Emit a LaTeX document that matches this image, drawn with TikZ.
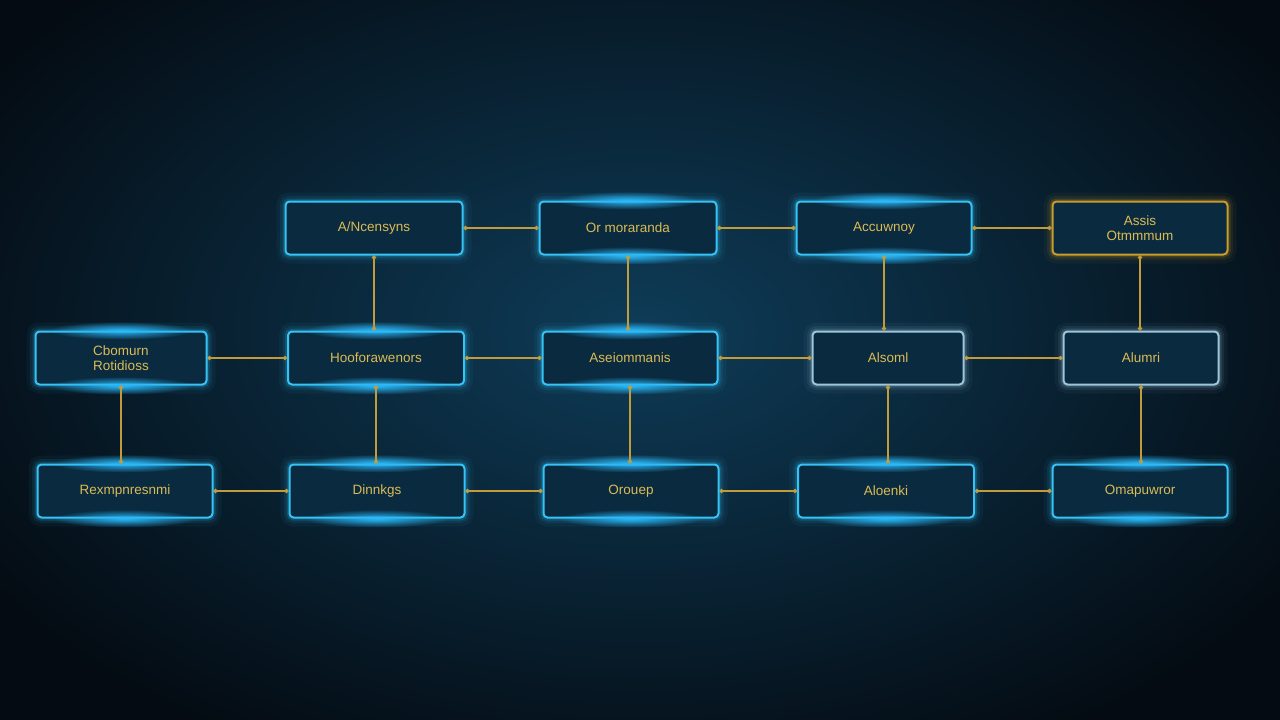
\documentclass[tikz,border=0pt]{standalone}
\usepackage{fontspec}
\setmainfont{Liberation Sans}
\usetikzlibrary{arrows.meta,fadings}
\definecolor{bgout}{HTML}{040B12}
\definecolor{bgin}{HTML}{0E3C58}
\definecolor{boxfill}{HTML}{0A2A3F}
\definecolor{cyanb}{HTML}{35C4F8}
\definecolor{glowc}{HTML}{2AB8F8}
\definecolor{paleb}{HTML}{9CC6DC}
\definecolor{goldb}{HTML}{C99C2C}
\definecolor{txtgold}{HTML}{DBBB55}
\definecolor{connc}{HTML}{C29C3A}
\tikzfading[name=glowfade, inner color=transparent!0, outer color=transparent!100]
\tikzset{
  box/.style={rounded corners=4pt, draw=#1, line width=2pt, fill=boxfill,
    minimum height=53pt, text=txtgold, align=center, inner sep=2pt,
    font=\fontsize{13.5}{15.5}\selectfont,
    preaction={draw=#1, line width=18pt, draw opacity=.05},
    preaction={draw=#1, line width=11pt, draw opacity=.09},
    preaction={draw=#1, line width=6pt, draw opacity=.18}},
  box/.default=cyanb,
  conn/.style={draw=connc, line width=2pt, {Circle[length=4pt]}-{Circle[length=4pt]}},
  halo/.style={fill=glowc, path fading=glowfade, opacity=1}
}
\begin{document}
\begin{tikzpicture}[x=1pt,y=-1pt]
\useasboundingbox (0,0) rectangle (1280,720);
\fill[bgout] (0,0) rectangle (1280,720);
\shade[inner color=bgin, outer color=bgout] (640,330) ellipse (780pt and 480pt);
% row 1
\node[box, minimum width=177pt] (n11) at (374,228) {A/Ncensyns};
\node[box, minimum width=177pt] (n12) at (628,228) {Or moraranda};
\node[box, minimum width=175pt] (n13) at (884,228) {Accuwnoy};
\node[box=goldb, minimum width=175pt] (n14) at (1140,228) {Assis\\Otmmmum};
% row 2
\node[box, minimum width=171pt] (n20) at (121,358) {Cbomurn\\Rotidioss};
\node[box, minimum width=176pt] (n21) at (376,358) {Hooforawenors};
\node[box, minimum width=175pt] (n22) at (630,358) {Aseiommanis};
\node[box=paleb, minimum width=151pt] (n23) at (888,358) {Alsoml};
\node[box=paleb, minimum width=155pt] (n24) at (1141,358) {Alumri};
% row 3
\node[box, minimum width=175pt] (n30) at (125,491) {Rexmpnresnmi};
\node[box, minimum width=175pt] (n31) at (377,491) {Dinnkgs};
\node[box, minimum width=175pt] (n32) at (631,491) {Orouep};
\node[box, minimum width=176pt] (n33) at (886,491) {Aloenki};
\node[box, minimum width=175pt] (n34) at (1140,491) {Omapuwror};
% halos
\foreach \n in {n12,n13,n22,n30,n31,n32,n33,n34,n21,n20}{
  \fill[halo] (\n.north) ellipse (72pt and 9pt);
  \fill[halo] (\n.south) ellipse (72pt and 9pt);
}
% horizontal connectors
\draw[conn] (n11.east) -- (n12.west);
\draw[conn] (n12.east) -- (n13.west);
\draw[conn] (n13.east) -- (n14.west);
\draw[conn] (n20.east) -- (n21.west);
\draw[conn] (n21.east) -- (n22.west);
\draw[conn] (n22.east) -- (n23.west);
\draw[conn] (n23.east) -- (n24.west);
\draw[conn] (n30.east) -- (n31.west);
\draw[conn] (n31.east) -- (n32.west);
\draw[conn] (n32.east) -- (n33.west);
\draw[conn] (n33.east) -- (n34.west);
% vertical connectors
\draw[conn] (n11.south) -- (n11.south |- n21.north);
\draw[conn] (n12.south) -- (n12.south |- n22.north);
\draw[conn] (n13.south) -- (n13.south |- n23.north);
\draw[conn] (n14.south) -- (n14.south |- n24.north);
\draw[conn] (n20.south) -- (n20.south |- n30.north);
\draw[conn] (n21.south) -- (n21.south |- n31.north);
\draw[conn] (n22.south) -- (n22.south |- n32.north);
\draw[conn] (n23.south) -- (n23.south |- n33.north);
\draw[conn] (n24.south) -- (n24.south |- n34.north);
\end{tikzpicture}
\end{document}
